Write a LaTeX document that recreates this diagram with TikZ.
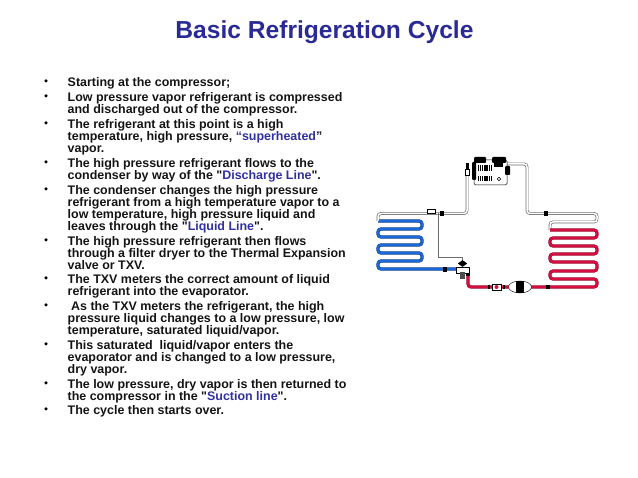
\documentclass[tikz,border=0pt]{standalone}
\usepackage{fontspec}
\usetikzlibrary{shapes.geometric}
\setmainfont{Liberation Sans}
\newfontfamily\slidefont{Liberation Sans}
\definecolor{titleblue}{RGB}{42,42,150}
\definecolor{linkblue}{RGB}{48,48,160}
\definecolor{coilblue}{RGB}{25,105,220}
\definecolor{coilred}{RGB}{215,15,65}
\definecolor{pipegray}{RGB}{110,110,110}
\tikzset{
  itemtext/.style={anchor=north west,inner sep=0pt,align=left,text=black!92,
    font=\slidefont\bfseries\fontsize{12.45}{12.25}\selectfont},
  itemdot/.style={circle,fill=black,inner sep=0pt,minimum size=3.5pt},
  whitepipe/.style={draw=pipegray,line width=.7pt,double=white,double distance=1.5pt,rounded corners=3pt},
  bluepipe/.style={draw=black!45!coilblue,line width=.5pt,double=coilblue,double distance=2.2pt,rounded corners=3pt},
  redpipe/.style={draw=black!30!coilred,line width=.5pt,double=coilred,double distance=2.2pt,rounded corners=3pt},
  fitting/.style={fill=black,inner sep=0pt,minimum width=3.5pt,minimum height=4.5pt}
}
\newcommand{\lnk}[1]{\textcolor{linkblue}{#1}}
\begin{document}
\begin{tikzpicture}[x=1pt,y=-1pt]
  \useasboundingbox (0,0) rectangle (638,478);
  % Title
  \node[text=titleblue,font=\slidefont\bfseries\fontsize{24.6}{25}\selectfont] (title) at (324.5,32.5) {Basic Refrigeration Cycle};
  % Bullets
  \node[itemdot] (dota) at (46,81) {};
  \node[itemdot] (dotb) at (46,96) {};
  \node[itemdot] (dotc) at (46,123) {};
  \node[itemdot] (dotd) at (46,162) {};
  \node[itemdot] (dote) at (46,189) {};
  \node[itemdot] (dotf) at (46,240) {};
  \node[itemdot] (dotg) at (46,278) {};
  \node[itemdot] (doth) at (46,305) {};
  \node[itemdot] (doti) at (46,344) {};
  \node[itemdot] (dotj) at (46,383) {};
  \node[itemdot] (dotk) at (46,409) {};
  % Text
  \node[itemtext] (texta) at (67.5,77) {Starting at the compressor;};
  \node[itemtext] (textb) at (67.5,92) {Low pressure vapor refrigerant is compressed\\and discharged out of the compressor.};
  \node[itemtext] (textc) at (67.5,119) {The refrigerant at this point is a high\\temperature, high pressure, \lnk{“superheated}”\\vapor.};
  \node[itemtext] (textd) at (67.5,158) {The high pressure refrigerant flows to the\\condenser by way of the "\lnk{Discharge Line}".};
  \node[itemtext] (texte) at (67.5,185) {The condenser changes the high pressure\\refrigerant from a high temperature vapor to a\\low temperature, high pressure liquid and\\leaves through the "\lnk{Liquid Line}".};
  \node[itemtext] (textf) at (67.5,236) {The high pressure refrigerant then flows\\through a filter dryer to the Thermal Expansion\\valve or TXV.};
  \node[itemtext] (textg) at (67.5,274) {The TXV meters the correct amount of liquid\\refrigerant into the evaporator.};
  \node[itemtext] (texth) at (67.5,301) {\ As the TXV meters the refrigerant, the high\\pressure liquid changes to a low pressure, low\\temperature, saturated liquid/vapor.};
  \node[itemtext] (texti) at (67.5,340) {This saturated\ \ liquid/vapor enters the\\evaporator and is changed to a low pressure,\\dry vapor.};
  \node[itemtext] (textj) at (67.5,379) {The low pressure, dry vapor is then returned to\\the compressor in the "\lnk{Suction line}".};
  \node[itemtext] (textk) at (67.5,405) {The cycle then starts over.};
  % Evaporator
  \draw[bluepipe] (378,221) -- (422,221) -- (422,229) -- (378,229) -- (378,237) -- (422,237) -- (422,245) -- (378,245) -- (378,253) -- (422,253) -- (422,261) -- (378,261) -- (378,269) -- (457,269);
  % Suction line
  \draw[whitepipe] (467,173) -- (467,213.5) -- (378,213.5) -- (378,221);
  % Capillary tube
  \draw[draw=pipegray,line width=.8pt] (438,213.5) -- (438,257) -- (462,257) -- (462,264);
  % Condenser
  \draw[whitepipe] (507,164) -- (527,164) -- (527,213.5) -- (597,213.5) -- (597,222) -- (550,222) -- (550,230);
  \draw[redpipe] (550,230) -- (597,230) -- (597,238) -- (550,238) -- (550,246) -- (597,246) -- (597,254) -- (550,254) -- (550,262) -- (597,262) -- (597,271) -- (550,271) -- (550,279) -- (597,279) -- (597,287) -- (468,287) -- (468,275);
  % Bulb and fittings
  \node[draw=black,fill=white,inner sep=0pt,minimum width=8pt,minimum height=4pt] (bulb) at (431,211) {};
  \node[fitting] (fita) at (442,213.5) {};
  \node[fitting] (fitb) at (546,213.5) {};
  \node[fitting] (fitc) at (445,269.5) {};
  \node[fitting] (fitd) at (548,287) {};
  \node[fitting,minimum width=4pt,minimum height=3pt] (fite) at (468,274.5) {};
  % Expansion valve
  \node[draw=black,fill=white,inner sep=0pt,minimum width=13pt,minimum height=6pt] (valve) at (463,270) {};
  \node[fill=black,diamond,aspect=1.4,inner sep=2pt] (valvetop) at (462.5,263.5) {};
  \node[fill=black!70,inner sep=0pt,minimum width=4.5pt,minimum height=7pt] (valvebot) at (462.5,276) {};
  % Sight glass
  \node[draw=black,fill=white,inner sep=0pt,minimum width=9pt,minimum height=6pt] (sight) at (496.5,287) {};
  \node[circle,fill=coilred,inner sep=0pt,minimum size=4pt] (sighteye) at (496.5,287) {};
  \node[fitting,minimum width=2.5pt] (fitf) at (489,287) {};
  \node[fitting,minimum width=2.5pt] (fitg) at (504,287) {};
  % Filter dryer
  \node[draw=black,fill=white,ellipse,inner sep=0pt,minimum width=23pt,minimum height=12pt] (dryer) at (520,287) {};
  \node[fill=black,inner sep=0pt,minimum width=8pt,minimum height=11.5pt] (dryercore) at (520,287) {};
  % Compressor
  \draw[black,fill=white,line width=.5pt,rounded corners=1.5pt] (474,160) rectangle (507,185);
  \fill[black,rounded corners=1pt] (474,157) rectangle (486,163);
  \fill[black,rounded corners=1pt] (492,157) rectangle (506,163);
  \fill[black,rounded corners=1pt] (472,162) rectangle (476,180);
  \fill[black,rounded corners=1pt] (505,166) rectangle (510,175);
  \draw[black,line width=6pt,dash pattern=on 1.2pt off .9pt] (478,168) -- (491,168);
  \draw[black,line width=5pt,dash pattern=on 1.2pt off .9pt] (478,178.5) -- (491,178.5);
  \fill[black] (494,163) rectangle (503,167);
  \draw[black,line width=.5pt] (499,179) circle (1.8);
  % Suction service valve
  \fill[black] (466,163) rectangle (468.5,169);
  \draw[black,fill=white,line width=.4pt] (465,169) rectangle (469,175);
\end{tikzpicture}
\end{document}
